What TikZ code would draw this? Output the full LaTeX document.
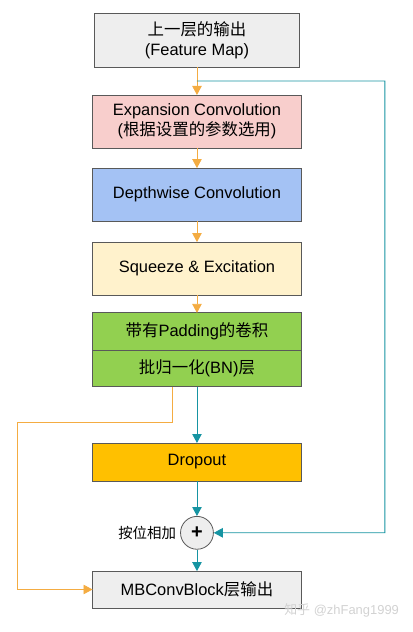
\documentclass[tikz,border=0pt]{standalone}
\usepackage{fontspec}
\setmainfont{Liberation Sans}
\newfontfamily\cjk{Noto Sans CJK SC}
\usetikzlibrary{arrows.meta,positioning,calc}
\definecolor{linegray}{RGB}{89,89,89}
\definecolor{boxgray}{RGB}{238,238,238}
\definecolor{exppink}{RGB}{248,206,204}
\definecolor{dwblue}{RGB}{164,194,244}
\definecolor{seyellow}{RGB}{255,242,204}
\definecolor{convgreen}{RGB}{146,208,80}
\definecolor{dropgold}{RGB}{255,192,0}
\definecolor{arroworange}{RGB}{244,172,66}
\definecolor{arrowteal}{RGB}{22,148,162}
\tikzstyle{block} = [rectangle, draw=linegray, line width=0.8pt, fill=boxgray, align=center, minimum width=7.37cm, minimum height=1.88cm, outer sep=0pt, inner sep=0pt, anchor=north, font=\fontsize{16.5}{20}\selectfont]
\tikzstyle{oline} = [draw=arroworange, line width=0.8pt]
\tikzstyle{tline} = [draw=arrowteal, line width=0.8pt]
\tikzstyle{arr} = [-{Triangle[width=9.5pt,length=9pt]}]

\begin{document}
\begin{tikzpicture}
    \useasboundingbox (0,0) rectangle (14.57,-22.30);
    \node[block, minimum width=7.23cm] (input) at (6.95,-0.49) {{\cjk 上一层的输出}\\(Feature Map)};
    \node[block, fill=exppink] (expand) at (6.95,-3.35) {Expansion Convolution\\({\cjk 根据设置的参数选用})};
    \node[block, fill=dwblue] (depth) at (6.95,-5.93) {Depthwise Convolution};
    \node[block, fill=seyellow] (se) at (6.95,-8.54) {Squeeze \& Excitation};
    \node[block, fill=convgreen, minimum height=1.33cm] (pad) at (6.95,-11.04) {{\cjk 带有}Padding{\cjk 的卷积}};
    \node[block, fill=convgreen, minimum height=1.28cm] (bn) at (pad.south) {{\cjk 批归一化}(BN){\cjk 层}};
    \node[block, fill=dropgold, minimum height=1.34cm] (drop) at (6.95,-15.63) {Dropout};
    \node[circle, draw=linegray, line width=0.8pt, fill=boxgray, minimum size=1.16cm, inner sep=0pt, font=\fontsize{20}{20}\selectfont\bfseries] (add) at (6.95,-18.80) {+};
    \node[left=0.02cm of add, font=\fontsize{14.5}{16}\selectfont] (addtxt) {{\cjk 按位相加}};
    \node[block, minimum height=1.30cm] (out) at (6.95,-20.15) {MBConvBlock{\cjk 层输出}};
    \node[anchor=east, text=gray!35, font=\fontsize{13}{15}\selectfont] (mark) at (14.2,-21.52) {{\cjk 知乎} @zhFang1999};

    % main path
    \draw[oline, arr] (input) -- (expand);
    \draw[oline, arr] (expand) -- (depth);
    \draw[oline, arr] (depth) -- (se);
    \draw[oline, arr] (se) -- (pad);
    \draw[tline, arr] (bn) -- (drop);
    \draw[tline, arr] (drop) -- (add);
    \draw[tline, arr] (add) -- (out);

    % skip connection
    \coordinate (split) at ($(input.south)!0.5!(expand.north)$);
    \coordinate (skipR) at (13.58,-2.86);
    \draw[tline, arr] (split) -- (skipR) |- (add.east);

    % bypass from BN
    \coordinate (bnout) at ($(bn.south)+(-0.85,0)$);
    \coordinate (bendL) at (0.60,-14.89);
    \draw[oline, arr] (bnout) |- (bendL) |- (out.west);
\end{tikzpicture}
\end{document}
